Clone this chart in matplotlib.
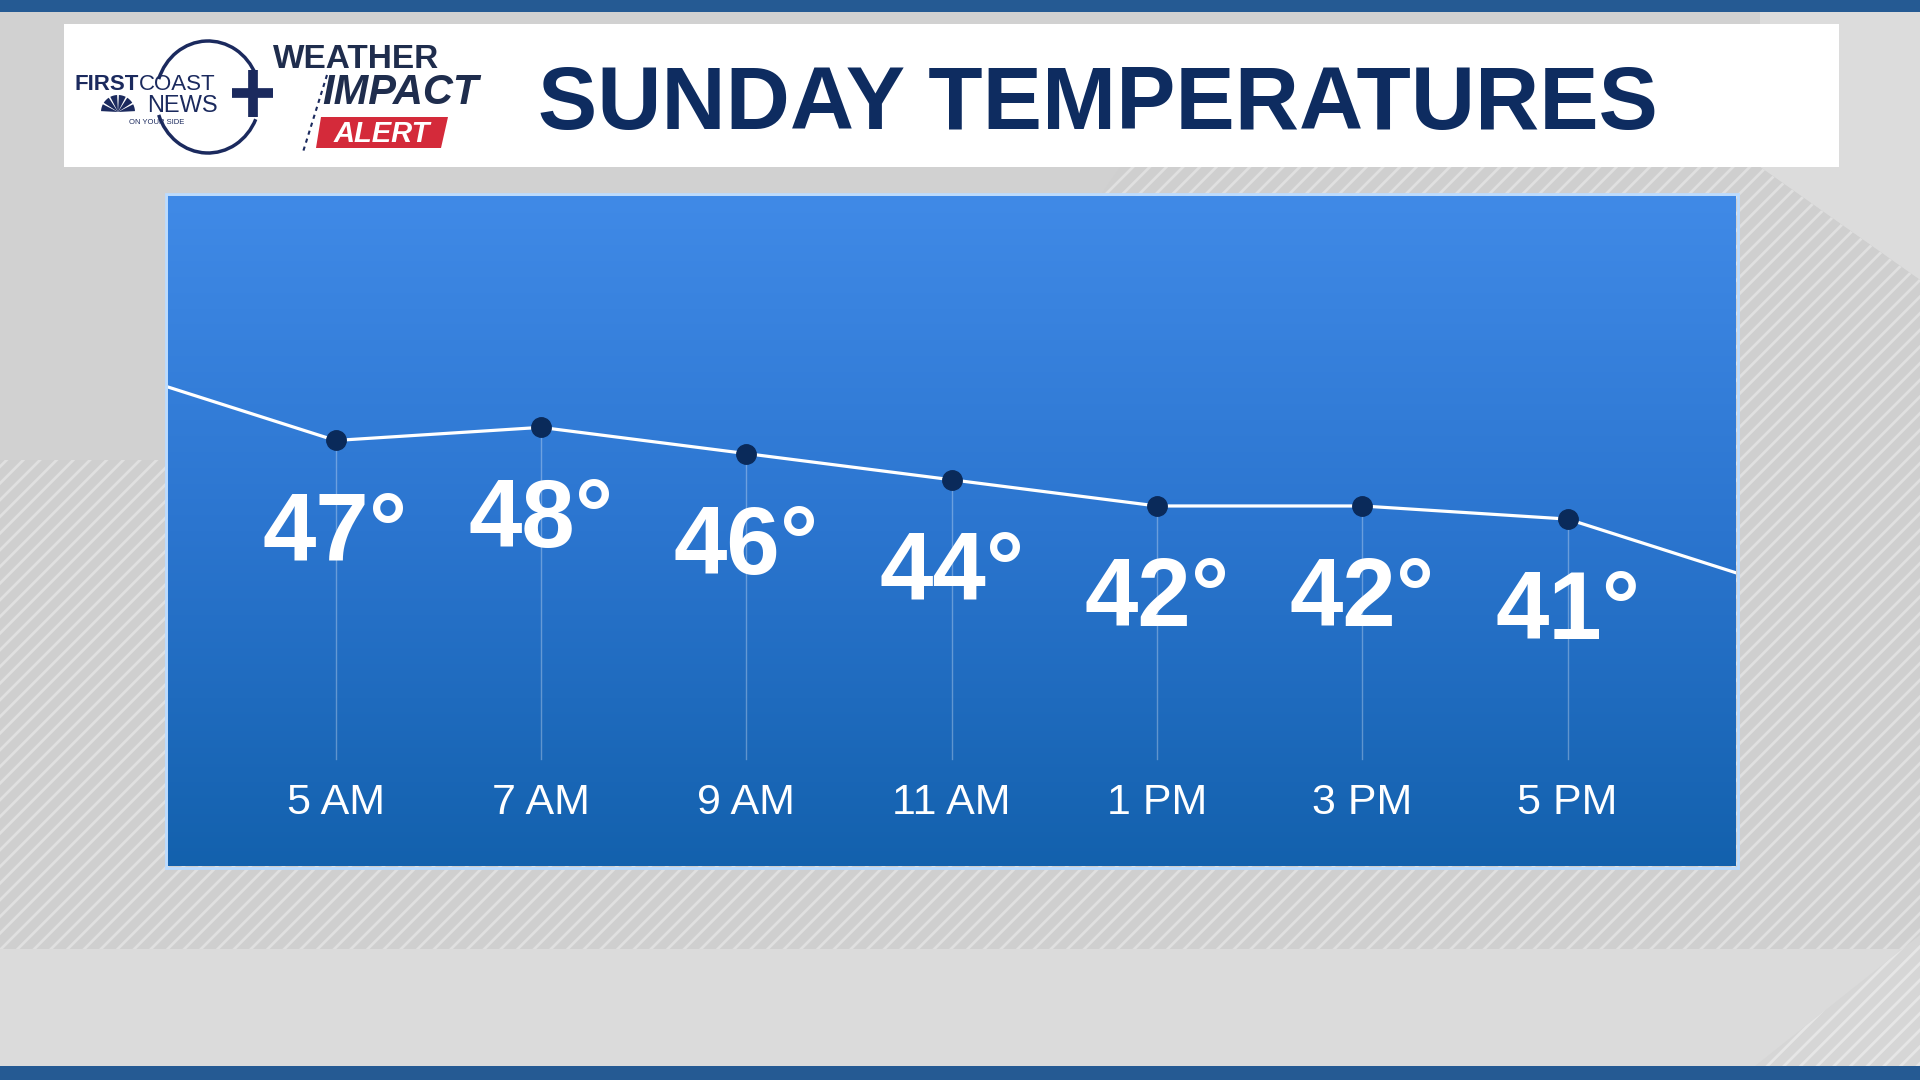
import numpy as np
import matplotlib.pyplot as plt
from matplotlib.patches import Rectangle, Polygon, Arc, Wedge
from matplotlib.colors import LinearSegmentedColormap

plt.rcParams['font.family'] = ['Liberation Sans', 'DejaVu Sans']
plt.rcParams['hatch.linewidth'] = 2.0

hours = ['5 AM', '7 AM', '9 AM', '11 AM', '1 PM', '3 PM', '5 PM']
temps = [47, 48, 46, 44, 42, 42, 41]
# the line runs off both panel edges: estimated values one step outside
lead_in_temp = 52
trail_out_temp = 36

title = 'SUNDAY TEMPERATURES'

navy = '#0e2c60'
band = '#255a93'

fig = plt.figure(figsize=(19.2, 10.8), dpi=100)

# background layer in pixel coordinates
bg = fig.add_axes([0, 0, 1, 1])
bg.set_xlim(0, 1920)
bg.set_ylim(1080, 0)
bg.axis('off')

bg.add_patch(Rectangle((0, 0), 1920, 1080, facecolor='#d1d1d1', lw=0))
bg.add_patch(Rectangle((0, 949), 1920, 120, facecolor='#dbdbdb', lw=0))
bg.add_patch(Polygon([(1760, 0), (1920, 0), (1920, 280), (1760, 167)],
                     facecolor='#dcdcdc', lw=0))
stripes = [(0, 460), (168, 460), (168, 196), (1100, 196), (1120, 167),
           (1760, 167), (1920, 280), (1920, 949), (0, 949)]
bg.add_patch(Polygon(stripes, facecolor='#cfcfcf', edgecolor='#e0e0e0',
                     hatch='//', lw=0))
bg.add_patch(Polygon([(1755, 1066), (1920, 1066), (1920, 935)],
                     facecolor='#d6d6d6', edgecolor='#e6e6e6', hatch='//', lw=0))

# top / bottom bars
bg.add_patch(Rectangle((0, 0), 1920, 12, facecolor=band, lw=0))
bg.add_patch(Rectangle((0, 1066), 1920, 14, facecolor=band, lw=0))

# header box
bg.add_patch(Rectangle((64, 24), 1775, 143, facecolor='white', lw=0))
bg.text(538, 129, title, fontsize=64, fontweight='bold', color=navy,
        ha='left', va='baseline')

# logo
logo_c = '#1b2a5e'
bg.add_patch(Arc((208, 97), 104, 112, theta1=25, theta2=160, color=logo_c, lw=2.5))
bg.add_patch(Arc((208, 97), 104, 112, theta1=200, theta2=335, color=logo_c, lw=2.5))
bg.text(75, 90, 'FIRST', fontsize=16, fontweight='bold', color=logo_c,
        ha='left', va='baseline')
bg.text(139, 90, 'COAST', fontsize=16, color=logo_c, ha='left', va='baseline')
bg.text(147, 112, 'NEWS', fontsize=17, color=logo_c, ha='left', va='baseline')
for k in range(6):
    bg.add_patch(Wedge((118, 112), 17, 180 + k * 30 + 3, 180 + (k + 1) * 30 - 3,
                       facecolor=logo_c, lw=0))
bg.text(157, 123, 'ON YOUR SIDE', fontsize=5.5, color=logo_c, ha='center', va='center')
bg.plot([232, 273], [93, 93], color=logo_c, lw=7, solid_capstyle='butt')
bg.plot([252.5, 252.5], [70, 117], color=logo_c, lw=7, solid_capstyle='butt')
bg.plot([327, 303], [75, 152], color=logo_c, lw=1.5, ls=(0, (2, 2)))
bg.text(273, 68, 'WEATHER', fontsize=24, fontweight='bold', color='#1f2d4d',
        ha='left', va='baseline')
bg.text(322, 104, 'IMPACT', fontsize=30, fontweight='bold', style='italic',
        color='#1f2d4d', ha='left', va='baseline')
bg.add_patch(Polygon([(321, 117), (448, 117), (441, 148), (316, 148)],
                     facecolor='#d42a3a', lw=0))
bg.text(382, 142, 'ALERT', fontsize=21, fontweight='bold', style='italic',
        color='white', ha='center', va='baseline')

# light outline round the panel
bg.add_patch(Rectangle((166, 194), 1572, 674, facecolor='none',
                       edgecolor='#bcdcff', lw=2))

# chart panel
left, top, right, bottom = 168, 196, 1736, 866
ax = fig.add_axes([left / 1920, (1080 - bottom) / 1080,
                   (right - left) / 1920, (bottom - top) / 1080])
ax.axis('off')

x = np.arange(len(hours))
xmin, xmax = -0.816, 6.82
ymin, ymax = 14.52, 65.66

grad = np.linspace(0, 1, 256).reshape(-1, 1)
cmap = LinearSegmentedColormap.from_list('panel', ['#1361ad', '#2b75cf', '#408ae7'])
ax.imshow(grad, extent=[xmin, xmax, ymin, ymax], origin='lower', aspect='auto',
          cmap=cmap, zorder=0)

# drop lines
for xi, t in zip(x, temps):
    ax.plot([xi, xi], [22.7, t], color='white', alpha=0.3, lw=1, zorder=1)

line_x = np.arange(-1, len(hours) + 1)
line_y = [lead_in_temp] + temps + [trail_out_temp]
ax.plot(line_x, line_y, color='white', lw=2.3, zorder=2)
ax.plot(x, temps, 'o', color='#0a2a5a', markersize=14, zorder=3)

for xi, t, h in zip(x, temps, hours):
    ax.annotate(f'{t}°', (xi, t), xytext=(0, -120), textcoords='offset pixels',
                fontsize=69, fontweight='bold', color='white',
                ha='center', va='baseline', zorder=4)
    ax.annotate(h, (xi, 0), xycoords=('data', 'axes fraction'),
                xytext=(0, (bottom - 814)), textcoords='offset pixels',
                fontsize=31, color='white', ha='center', va='baseline')

ax.set_xlim(xmin, xmax)
ax.set_ylim(ymin, ymax)

fig.savefig('out.png', dpi=100)
